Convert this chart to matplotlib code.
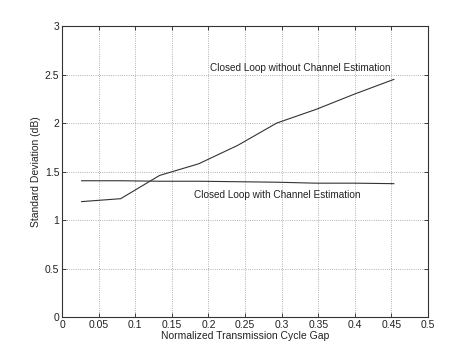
import matplotlib
matplotlib.use("Agg")
import matplotlib.pyplot as plt

# normalized transmission cycle gap
gap = [0.0267, 0.08, 0.1333, 0.1867, 0.24, 0.2933, 0.3467, 0.40, 0.4533]
# closed loop without channel estimation
std_no_est = [1.19, 1.22, 1.46, 1.58, 1.77, 2.00, 2.14, 2.30, 2.45]
# closed loop with channel estimation
std_est = [1.405, 1.405, 1.40, 1.40, 1.395, 1.39, 1.38, 1.38, 1.375]

xticks = [0, 0.05, 0.1, 0.15, 0.2, 0.25, 0.3, 0.35, 0.4, 0.45, 0.5]
xtick_labels = ['0', '0.05', '0.1', '0.15', '0.2', '0.25', '0.3', '0.35', '0.4', '0.45', '0.5']
yticks = [0, 0.5, 1, 1.5, 2, 2.5, 3]
ytick_labels = ['0', '0.5', '1', '1.5', '2', '2.5', '3']

plt.rcParams['font.family'] = ['Liberation Sans', 'DejaVu Sans']

fig = plt.figure(figsize=(4.74, 3.57), dpi=100)
ax = fig.add_axes([0.131, 0.112, 0.772, 0.815])

ax.plot(gap, std_no_est, color='#333333', lw=0.8)
ax.plot(gap, std_est, color='#333333', lw=0.8)

ax.text(0.326, 2.57, 'Closed Loop without Channel Estimation', ha='center', va='center', fontsize=7.2, color='#222222')
ax.text(0.294, 1.26, 'Closed Loop with Channel Estimation', ha='center', va='center', fontsize=7.2, color='#222222')

ax.set_xlim(0, 0.5)
ax.set_ylim(0, 3)
ax.set_xticks(xticks)
ax.set_xticklabels(xtick_labels)
ax.set_yticks(yticks)
ax.set_yticklabels(ytick_labels)
ax.tick_params(direction='in', labelsize=7.5, length=3, width=0.6, top=True, right=True, pad=2, colors='#222222')
ax.grid(True, linestyle=':', color='#999999', lw=0.6)
for s in ax.spines.values():
    s.set_linewidth(0.8)
    s.set_color('#333333')

ax.set_xlabel('Normalized Transmission Cycle Gap', fontsize=7.5, labelpad=1, color='#222222')
ax.set_ylabel('Standard Deviation (dB)', fontsize=7.5, labelpad=3, color='#222222')

fig.savefig('out.png', dpi=100)
